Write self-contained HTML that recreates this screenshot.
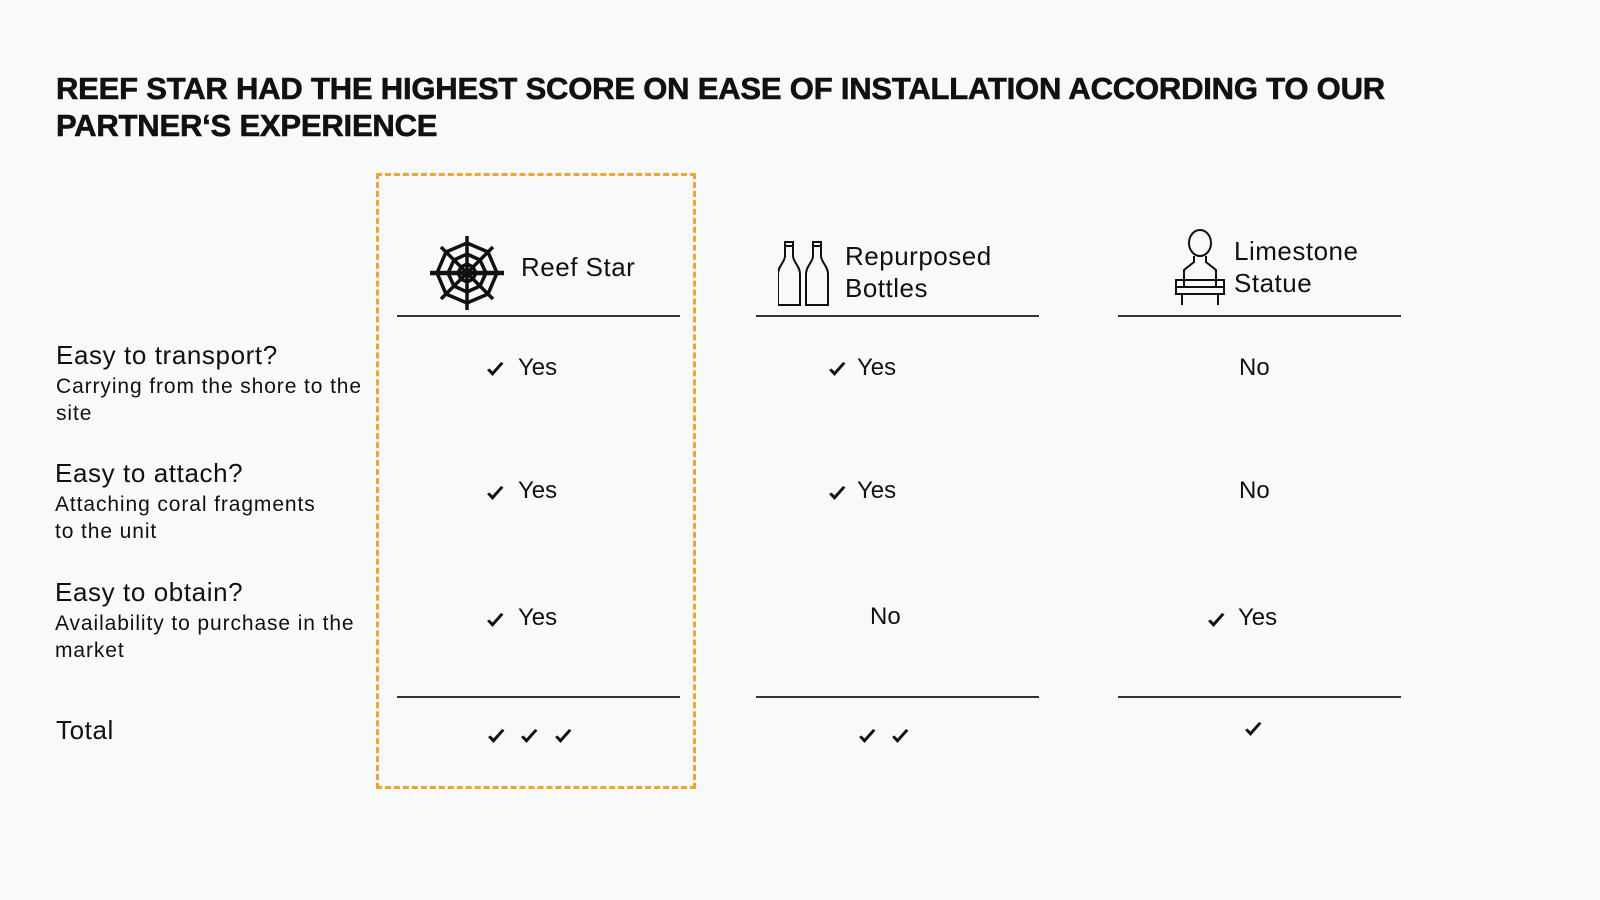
<!DOCTYPE html>
<html><head><meta charset="utf-8"><style>
body{margin:0;width:1600px;height:900px;background:#f8f9fb;font-family:"Liberation Sans",sans-serif;color:#111;position:relative;overflow:hidden}
.a{position:absolute;white-space:nowrap}
.t{font-weight:bold;font-size:31px;left:56px;letter-spacing:-0.2px;line-height:37px;top:70px;transform:scaleX(1.0);transform-origin:left;-webkit-text-stroke:0.6px #111}
.h{font-size:26px;line-height:32px;letter-spacing:0.5px}
.q{font-size:26px;line-height:28px;letter-spacing:0.6px}
.s{font-size:21px;line-height:27px;letter-spacing:0.9px}
.v{font-size:24px;line-height:28px}
.ln{position:absolute;height:1.5px;background:#333}
svg.c{position:absolute;width:19px;height:17px}
</style></head><body>
<div class="a t">REEF STAR HAD THE HIGHEST SCORE ON EASE OF INSTALLATION ACCORDING TO OUR<br>PARTNER‘S EXPERIENCE</div>
<div style="position:absolute;left:376px;top:173px;width:320px;height:616px;border:3px dashed #f4a623;box-sizing:border-box"></div>
<div class="ln" style="left:397px;top:315px;width:283px"></div>
<div class="ln" style="left:756px;top:315px;width:283px"></div>
<div class="ln" style="left:1118px;top:315px;width:283px"></div>
<div class="ln" style="left:397px;top:696px;width:283px"></div>
<div class="ln" style="left:756px;top:696px;width:283px"></div>
<div class="ln" style="left:1118px;top:696px;width:283px"></div>
<svg class="a" style="left:428px;top:234px" width="78" height="78" viewBox="-39 -39 78 78" fill="none" stroke="#111" stroke-width="3.5">
<line x1="0" y1="-37" x2="0" y2="37"/><line x1="-37" y1="0" x2="37" y2="0" stroke-width="4.5"/><line x1="-26" y1="-26" x2="26" y2="26"/><line x1="26" y1="-26" x2="-26" y2="26"/>
<polygon points="0,-30 21,-21 30,0 21,21 0,30 -21,21 -30,0 -21,-21"/>
<polygon points="0,-19 13,-13 19,0 13,13 0,19 -13,13 -19,0 -13,-13"/>
<polygon points="0,-9 6,-6 9,0 6,6 0,9 -6,6 -9,0 -6,-6"/>
</svg>
<svg class="a" style="left:778px;top:240px" width="56" height="68" viewBox="0 0 56 68" fill="none" stroke="#111" stroke-width="2">
<path d="M7 2h8v14c0 6 7 10 7 18v31h-22v-31c0-8 7-12 7-18z"/><line x1="7" y1="6" x2="15" y2="6"/>
<path d="M35 2h8v14c0 6 7 10 7 18v31h-22v-31c0-8 7-12 7-18z"/><line x1="35" y1="6" x2="43" y2="6"/>
</svg>
<svg class="a" style="left:1172px;top:229px" width="56" height="78" viewBox="0 0 56 78" fill="none" stroke="#111" stroke-width="2">
<ellipse cx="28" cy="14" rx="11" ry="13"/><path d="M22 27v6l-10 8v17M34 27v6l10 8v17"/>
<rect x="4" y="51" width="48" height="7"/><rect x="4" y="58" width="48" height="7"/><path d="M10 65v11M46 65v11"/>
</svg>
<div class="a h" style="left:521px;top:251px">Reef Star</div>
<div class="a h" style="left:845px;top:240px">Repurposed<br>Bottles</div>
<div class="a h" style="left:1234px;top:235px">Limestone<br>Statue</div>
<div class="a q" style="left:56px;top:341px">Easy to transport?</div>
<div class="a s" style="left:56px;top:373px">Carrying from the shore to the<br>site</div>
<div class="a q" style="left:55px;top:459px">Easy to attach?</div>
<div class="a s" style="left:55px;top:491px">Attaching coral fragments<br>to the unit</div>
<div class="a q" style="left:55px;top:578px">Easy to obtain?</div>
<div class="a s" style="left:55px;top:610px">Availability to purchase in the<br>market</div>
<div class="a q" style="left:56px;top:716px">Total</div>
<div class="a v" style="left:518px;top:354px">Yes</div>
<div class="a v" style="left:518px;top:477px">Yes</div>
<div class="a v" style="left:518px;top:604px">Yes</div>
<div class="a v" style="left:857px;top:354px">Yes</div>
<div class="a v" style="left:857px;top:477px">Yes</div>
<div class="a v" style="left:870px;top:603px">No</div>
<div class="a v" style="left:1239px;top:354px">No</div>
<div class="a v" style="left:1239px;top:477px">No</div>
<div class="a v" style="left:1238px;top:604px">Yes</div>
<svg width="0" height="0" style="position:absolute"><defs><path id="ck" d="M1 8l5.5 6 11-12.5-2.5-1.5-8.5 9.5-3-3z" fill="#111"/></defs></svg>
<svg class="c" style="left:486px;top:362px"><use href="#ck"/></svg>
<svg class="c" style="left:486px;top:486px"><use href="#ck"/></svg>
<svg class="c" style="left:486px;top:613px"><use href="#ck"/></svg>
<svg class="c" style="left:828px;top:362px"><use href="#ck"/></svg>
<svg class="c" style="left:828px;top:486px"><use href="#ck"/></svg>
<svg class="c" style="left:1207px;top:613px"><use href="#ck"/></svg>
<svg class="c" style="left:487px;top:729px"><use href="#ck"/></svg>
<svg class="c" style="left:520px;top:729px"><use href="#ck"/></svg>
<svg class="c" style="left:554px;top:729px"><use href="#ck"/></svg>
<svg class="c" style="left:858px;top:729px"><use href="#ck"/></svg>
<svg class="c" style="left:891px;top:729px"><use href="#ck"/></svg>
<svg class="c" style="left:1244px;top:722px"><use href="#ck"/></svg>
</body></html>
